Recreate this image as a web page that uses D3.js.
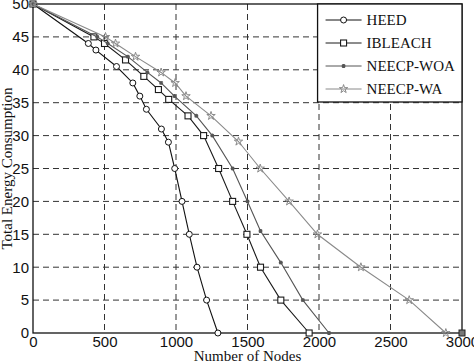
<!DOCTYPE html>
<style>
    body { margin: 0; background: #fff; }
    svg { font-family: 'Liberation Serif', 'Times New Roman', serif; }
    .grid line { stroke: #333; stroke-dasharray: 6,4; stroke-width: 1; }
    .axis .domain { display: none; }
    .axis text { font-size: 15px; fill: #111; }
</style>
<svg width="474" height="363"></svg>
<script src="https://d3js.org/d3.v7.min.js"></script>
<script>
    // data
    var seriesNames = ["HEED", "IBLEACH", "NEECP-WOA", "NEECP-WA"];
    var heed = [[0,50],[387,44],[440,43],[584,40.5],[698,38],[747,36],[793,34],[898,31],[947,29],[991,25],
                [1042,20],[1093,15],[1147,10],[1214,5],[1293,0]];
    var ibleach = [[0,50],[426,45],[500,44],[647,41.5],[775,39],[877,37],[949,35.5],[1084,33],[1193,30],[1298,25],
                   [1396,20],[1496,15],[1591,10],[1733,5],[1931,0]];
    var neecpWoa = [[0,50],[449,45],[523,44],[663,42],[800,39.6],[896,38],[989,36],[1142,33],[1254,30],[1396,25],
                    [1500,20],[1591,15.5],[1733,10.7],[1887,5],[2070,0]];
    var neecpWa = [[0,50],[507,45],[577,44],[717,42],[896,39.6],[994,38],[1070,36],[1245,33],[1437,29.1],[1589,25],
                   [1791,20],[1989,15],[2293,10],[2631,5],[2887,0]];
    var endMarker = [[3000,0]];
    var xTicks = [0, 500, 1000, 1500, 2000, 2500, 3000];
    var yTicks = [0, 5, 10, 15, 20, 25, 30, 35, 40, 45, 50];

    var svg = d3.select("svg"),
        margin = {top: 4, right: 12, bottom: 30, left: 33},
        width = +svg.attr("width") - margin.left - margin.right,
        height = +svg.attr("height") - margin.top - margin.bottom,
        g = svg.append("g").attr("transform", "translate(" + margin.left + "," + margin.top + ")");

    var x = d3.scaleLinear().domain([0, 3000]).range([0, width]);
    var y = d3.scaleLinear().domain([0, 50]).range([height, 0]);

    // grid
    g.append("g").attr("class", "grid")
        .selectAll("line").data(xTicks.slice(1, -1)).enter().append("line")
        .attr("x1", function(d) { return x(d); }).attr("x2", function(d) { return x(d); })
        .attr("y1", 0).attr("y2", height);
    g.append("g").attr("class", "grid")
        .selectAll("line").data(yTicks.slice(1, -1)).enter().append("line")
        .attr("y1", function(d) { return y(d); }).attr("y2", function(d) { return y(d); })
        .attr("x1", 0).attr("x2", width);

    // axes
    g.append("g").attr("class", "axis")
        .attr("transform", "translate(0," + height + ")")
        .call(d3.axisBottom(x).tickValues(xTicks).tickSize(0).tickPadding(3).tickFormat(d3.format("d")));
    g.append("g").attr("class", "axis")
        .call(d3.axisLeft(y).tickValues(yTicks).tickSize(0).tickPadding(4));

    g.append("rect").attr("width", width).attr("height", height)
        .attr("fill", "none").attr("stroke", "#111").attr("stroke-width", 1.3);

    svg.append("text")
        .attr("x", margin.left + width / 2).attr("y", 361)
        .attr("text-anchor", "middle").style("font-size", "15px").attr("fill", "#111")
        .text("Number of Nodes");
    svg.append("text")
        .attr("transform", "translate(12," + (margin.top + height / 2) + ") rotate(-90)")
        .attr("text-anchor", "middle").style("font-size", "15px").attr("fill", "#111")
        .text("Total Energy Consumption");

    var allData = [heed, ibleach, neecpWoa, neecpWa];
    var colors = ["#111", "#1a1a1a", "#555", "#8a8a8a"];
    var markers = ["circle", "square", "asterisk", "star"];

    function drawMarker(sel, type, color) {
        if (type == "circle") {
            sel.append("circle").attr("r", 3).attr("fill", "#fff").attr("stroke", color).attr("stroke-width", 1);
        } else if (type == "square") {
            sel.append("rect").attr("x", -3).attr("y", -3).attr("width", 6).attr("height", 6)
                .attr("fill", "#fff").attr("stroke", color).attr("stroke-width", 1.1);
        } else if (type == "asterisk") {
            sel.append("path").attr("d", "M-2,0H2M0,-2V2M-1.5,-1.5L1.5,1.5M-1.5,1.5L1.5,-1.5")
                .attr("stroke", color).attr("stroke-width", 1.1).attr("fill", "none");
        } else {
            sel.append("path").attr("d", d3.symbol().type(d3.symbolStar).size(22)())
                .attr("fill", "none").attr("stroke", color).attr("stroke-width", 1);
        }
    }

    var line = d3.line().x(function(d) { return x(d[0]); }).y(function(d) { return y(d[1]); });

    allData.forEach(function(data, i) {
        g.append("path").datum(data)
            .attr("fill", "none").attr("stroke", colors[i]).attr("stroke-width", 1.1)
            .attr("d", line);
        g.append("g").selectAll("g").data(data).enter().append("g")
            .attr("transform", function(d) { return "translate(" + x(d[0]) + "," + y(d[1]) + ")"; })
            .each(function() { drawMarker(d3.select(this), markers[i], colors[i]); });
    });

    // filled square at the far end of the x axis
    g.append("g").selectAll("rect").data(endMarker).enter().append("rect")
        .attr("x", function(d) { return x(d[0]) - 3; }).attr("y", function(d) { return y(d[1]) - 3; })
        .attr("width", 6).attr("height", 6)
        .attr("fill", "#777").attr("stroke", "#222");

    // legend
    var lx = x(1990), lw = width - lx, lh = 98;
    var legend = g.append("g").attr("transform", "translate(" + lx + ",0)");
    legend.append("rect").attr("width", lw).attr("height", lh)
        .attr("fill", "#fff").attr("stroke", "#111").attr("stroke-width", 1.3);
    var items = legend.selectAll("g.item").data(seriesNames).enter().append("g")
        .attr("class", "item")
        .attr("transform", function(d, i) { return "translate(0," + (16 + i * 23) + ")"; });
    items.append("line").attr("x1", 8).attr("x2", 44)
        .attr("stroke", function(d, i) { return colors[i]; }).attr("stroke-width", 1);
    items.each(function(d, i) {
        var m = d3.select(this).append("g").attr("transform", "translate(26,0)");
        drawMarker(m, markers[i], colors[i]);
    });
    items.append("text").attr("x", 49).attr("dy", "0.35em")
        .style("font-size", "15px").attr("fill", "#111")
        .text(function(d) { return d; });
</script>
